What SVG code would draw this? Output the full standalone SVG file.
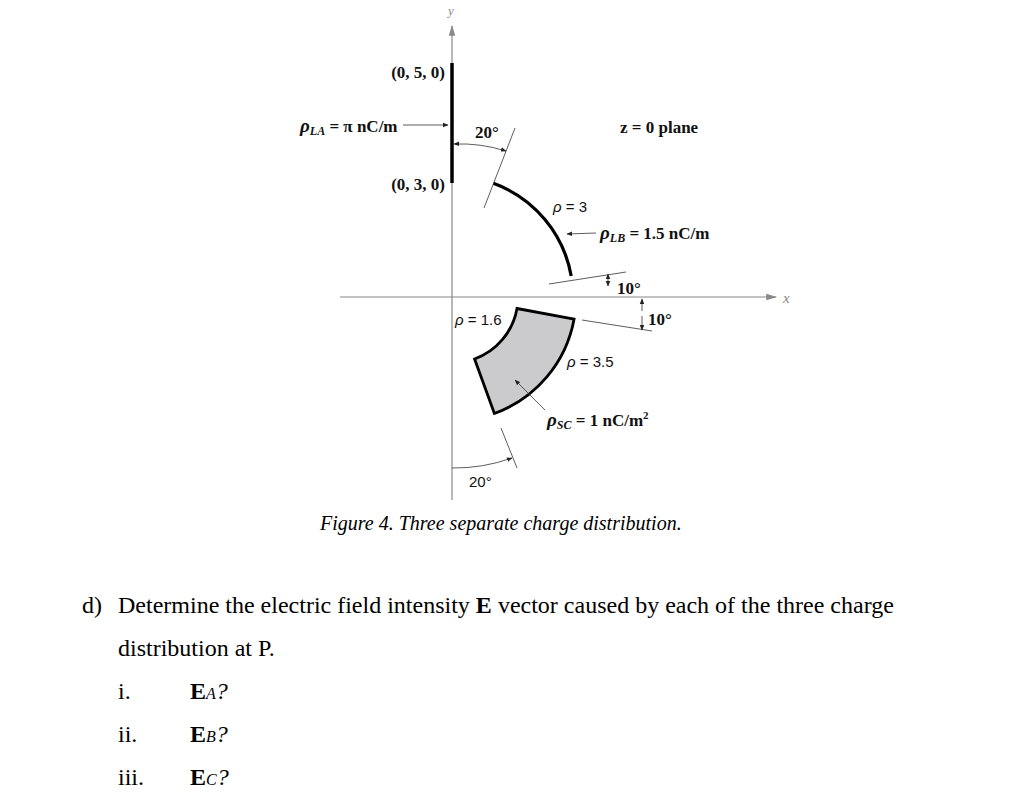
<svg xmlns="http://www.w3.org/2000/svg" width="1024" height="800" viewBox="0 0 1024 800">
<defs>
<marker id="ah" viewBox="0 0 10 10" refX="9" refY="5" markerWidth="7" markerHeight="7" orient="auto-start-reverse"><path d="M0,1 L10,5 L0,9 Z" fill="#222"/></marker>
<marker id="ag" viewBox="0 0 10 10" refX="9" refY="5" markerWidth="9" markerHeight="9" orient="auto"><path d="M0,2 L10,5 L0,8 Z" fill="#888"/></marker>
</defs>
<style>
.f{font-family:"Liberation Serif",serif;font-size:17px;font-weight:bold;fill:#111}
.s{font-family:"Liberation Sans",sans-serif;font-size:15px;fill:#111}
.b{font-family:"Liberation Serif",serif;font-size:24px;fill:#000}
.thin{stroke:#333;stroke-width:0.8;fill:none}
.ax{stroke:#888;stroke-width:1.2;fill:none}
</style>
<rect width="1024" height="800" fill="#fff"/>
<g id="axes">
<line class="ax" x1="452" y1="500" x2="452" y2="26" marker-end="url(#ag)"/>
<line class="ax" x1="340" y1="297" x2="776" y2="297" marker-end="url(#ag)"/>
<text x="448" y="15" font-family="Liberation Serif" font-style="italic" font-size="13" fill="#888">y</text>
<text x="783" y="303" font-family="Liberation Serif" font-style="italic" font-size="15" fill="#888">x</text>
</g>
<g id="lineA">
<line x1="452" y1="63" x2="452" y2="183" stroke="#000" stroke-width="3.5"/>
<text class="f" x="445" y="78" text-anchor="end">(0, 5, 0)</text>
<text class="f" x="445" y="190" text-anchor="end">(0, 3, 0)</text>
<text class="f" x="300" y="132" font-weight="normal"><tspan font-style="italic" font-size="19">ρ</tspan><tspan font-style="italic" font-size="12" dy="3">LA</tspan><tspan dy="-3"> = π </tspan><tspan font-weight="bold">nC/m</tspan></text>
</g>
<g id="arcB">
<path d="M493.4,183.3 A121,121 0 0 1 571.2,276" stroke="#000" stroke-width="3.2" fill="none"/>
<text class="s" x="553" y="212"><tspan font-style="italic">ρ</tspan> = 3</text>
<text class="f" x="600" y="239" font-weight="normal"><tspan font-style="italic" font-size="19">ρ</tspan><tspan font-style="italic" font-size="12" dy="3">LB</tspan><tspan dy="-3" font-weight="bold"> = 1.5 nC/m</tspan></text>
<text class="f" x="620" y="133">z = 0 plane</text>
</g>
<g id="regionC">
<path d="M517,308.5 L574.1,319 A124,124 0 0 1 494.4,413.5 L474.6,359 A66,66 0 0 0 517,308.5 Z" fill="#cbcbcd" stroke="#000" stroke-width="2.8"/>
<text class="s" x="455" y="325"><tspan font-style="italic">ρ</tspan> = 1.6</text>
<text class="s" x="567" y="367"><tspan font-style="italic">ρ</tspan> = 3.5</text>
<text class="f" x="547" y="426" font-weight="normal"><tspan font-style="italic" font-size="19">ρ</tspan><tspan font-style="italic" font-size="12" dy="3">SC</tspan><tspan dy="-3" font-weight="bold"> = 1 nC/m</tspan><tspan font-weight="bold" font-size="11" dy="-7">2</tspan></text>
</g>
<g id="connectors">
<line class="thin" x1="403" y1="125" x2="448" y2="125" marker-end="url(#ah)"/>
<line class="thin" x1="596" y1="233" x2="567" y2="234" marker-end="url(#ah)"/>
<line class="thin" x1="545" y1="410" x2="515" y2="380" marker-end="url(#ah)"/>
<line class="thin" x1="484" y1="208" x2="515" y2="128"/>
<path class="thin" d="M454,144 A153,153 0 0 1 506,151" marker-start="url(#ah)" marker-end="url(#ah)"/>
<text class="f" x="475" y="138">20°</text>
<line class="thin" x1="549" y1="284" x2="626" y2="272"/>
<line class="thin" x1="608" y1="286" x2="608" y2="274" marker-start="url(#ah)" marker-end="url(#ah)"/>
<text class="f" x="617" y="294">10°</text>
<line class="thin" x1="582" y1="320" x2="652" y2="331"/>
<line class="thin" x1="642" y1="311" x2="642" y2="299" marker-end="url(#ah)"/>
<line class="thin" x1="642" y1="316" x2="642" y2="330" marker-end="url(#ah)"/>
<text class="f" x="648" y="325">10°</text>
<line class="thin" x1="501" y1="428" x2="517" y2="468"/>
<path class="thin" d="M452,468 A171,171 0 0 0 512,458" marker-end="url(#ah)"/>
<text class="s" x="469" y="487">20°</text>
</g>
<g id="text">
<text x="320" y="530" font-family="Liberation Serif" font-style="italic" font-size="20">Figure 4. Three separate charge distribution.</text>
<text class="b" x="82" y="613">d)</text>
<text class="b" x="118" y="613">Determine the electric field intensity <tspan font-weight="bold">E</tspan> vector caused by each of the three charge</text>
<text class="b" x="118" y="656">distribution at P.</text>
<text class="b" x="118" y="699">i.</text>
<text class="b" x="190" y="699"><tspan font-weight="bold">E</tspan><tspan font-size="16" font-style="italic">A</tspan><tspan font-style="italic">?</tspan></text>
<text class="b" x="118" y="742">ii.</text>
<text class="b" x="190" y="742"><tspan font-weight="bold">E</tspan><tspan font-size="16" font-style="italic">B</tspan><tspan font-style="italic">?</tspan></text>
<text class="b" x="118" y="785">iii.</text>
<text class="b" x="190" y="785"><tspan font-weight="bold">E</tspan><tspan font-size="16" font-style="italic">C</tspan><tspan font-style="italic">?</tspan></text>
</g>
</svg>
